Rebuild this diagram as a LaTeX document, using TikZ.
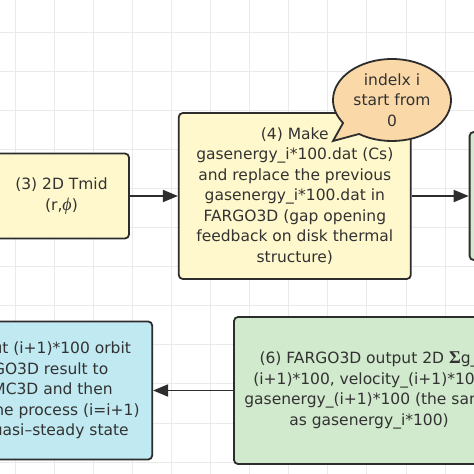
\documentclass[tikz,border=0pt]{standalone}
\usepackage{fontspec}
\setmainfont{DejaVu Sans}
\newfontfamily\symbfont{Liberation Serif}
\usepackage{tikz}
\usetikzlibrary{arrows.meta, positioning, shapes.callouts}
\usepackage{xcolor}
\definecolor{gridcolor}{RGB}{234,234,234}
\definecolor{linecolor}{RGB}{45,45,45}
\definecolor{textcolor}{RGB}{50,50,50}
\definecolor{tmidcolor}{RGB}{255,248,204}
\definecolor{fargocolor}{RGB}{209,233,205}
\definecolor{radmccolor}{RGB}{192,233,241}
\definecolor{notecolor}{RGB}{250,216,168}

\begin{document}
\begin{tikzpicture}[
    x=1pt, y=-1pt,
    box/.style={rectangle, rounded corners=4pt, draw=linecolor, line width=1.8pt, align=center, text=textcolor, inner sep=0pt, font=\fontsize{15.5}{20.5}\selectfont},
    note/.style={ellipse callout, draw=linecolor, line width=1.8pt, fill=notecolor, align=center, text=textcolor, inner sep=0pt, minimum width=118pt, minimum height=82pt, callout pointer arc=22, font=\fontsize{15.5}{20.5}\selectfont},
    arrow/.style={-{Triangle[length=15pt, width=12pt]}, line width=1.8pt, draw=linecolor},
    gridline/.style={draw=gridcolor, line width=1pt},
]
\useasboundingbox (0,0) rectangle (474,474);
\fill[white] (0,0) rectangle (474,474);
\clip (0,0) rectangle (474,474);

% background grid
\foreach \k in {0,...,11} {
    \draw[gridline] ({15+39.1*\k},0) -- ({15+39.1*\k},474);
    \draw[gridline] (0,{32+39.1*\k}) -- (474,{32+39.1*\k});
}

% top row
\node[box, fill=tmidcolor, minimum width=135pt, minimum height=85pt] (tmid) at (61.5,196) {(3) 2D Tmid\\(r,{\symbfont\itshape\fontsize{18}{20.5}\selectfont ϕ})};
\node[box, fill=tmidcolor, minimum width=232pt, minimum height=166pt, right=48pt of tmid] (make) {(4) Make\\gasenergy\_i*100.dat (Cs)\\and replace the previous\\gasenergy\_i*100.dat in\\FARGO3D (gap opening\\feedback on disk thermal\\structure)};
\node[box, fill=fargocolor, minimum width=200pt, minimum height=128pt, right=57pt of make] (run) {};
\node[note, callout absolute pointer={(333,141)}] (index) at (392,100) {indelx i\\start from\\0};

% bottom row
\node[box, fill=fargocolor, minimum width=270pt, minimum height=147pt] (output) at (369,390.5) {(6) FARGO3D output 2D {\symbfont\bfseries\fontsize{18}{20.5}\selectfont Σ}g\_\\(i+1)*100, velocity\_(i+1)*100\\gasenergy\_(i+1)*100 (the same\\as gasenergy\_i*100)};
\node[box, fill=radmccolor, minimum width=232pt, minimum height=138pt, left=80pt of output] (input) {(7) Input (i+1)*100 orbit\\FARGO3D result to\\RADMC3D and then\\repeat the process (i=i+1)\\until quasi--steady state};

\draw[arrow] (tmid) -- (make);
\draw[arrow] (make) -- (run);
\draw[arrow] (output) -- (input);

\end{tikzpicture}
\end{document}
